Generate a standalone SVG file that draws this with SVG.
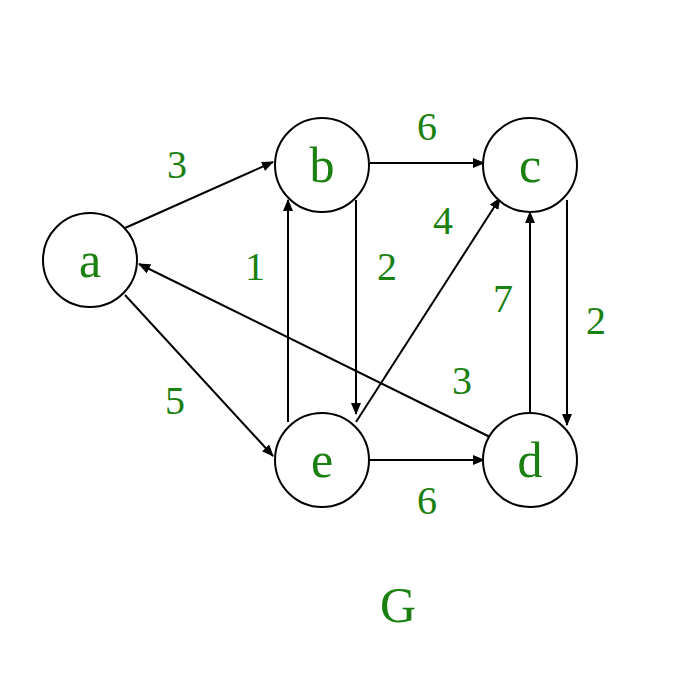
<svg xmlns="http://www.w3.org/2000/svg" width="698" height="674" viewBox="0 0 698 674">
<style>
.n{fill:#fff;stroke:#000;stroke-width:2}
.t{font-family:"Liberation Serif",serif;fill:#1a8010;text-anchor:middle}
.nl{font-size:50px}
.el{font-size:40px}
.e{stroke:#000;stroke-width:2;fill:none;marker-end:url(#ah)}
</style>
<defs><marker id="ah" markerWidth="12" markerHeight="10" refX="11" refY="5" orient="auto" markerUnits="userSpaceOnUse"><path d="M0,0L12,5L0,10z" fill="#000"/></marker></defs>
<rect width="698" height="674" fill="#fff"/>
<g id="connectors">
<line class="e" x1="125" y1="228" x2="273" y2="162"/>
<line class="e" x1="370" y1="163" x2="484" y2="163"/>
<line class="e" x1="356" y1="200" x2="356" y2="414"/>
<line class="e" x1="288" y1="422" x2="288" y2="200"/>
<line class="e" x1="356" y1="422" x2="500" y2="198"/>
<line class="e" x1="567" y1="200" x2="567" y2="425"/>
<line class="e" x1="530" y1="412" x2="530" y2="212"/>
<line class="e" x1="492" y1="438" x2="139" y2="264"/>
<line class="e" x1="125" y1="295" x2="273" y2="456"/>
<line class="e" x1="370" y1="460" x2="484" y2="460"/>
</g>
<g id="a"><circle class="n" cx="90" cy="260" r="47"/><text class="t nl" x="90" y="277">a</text></g>
<g id="b"><circle class="n" cx="322" cy="165" r="47"/><text class="t nl" x="322" y="182">b</text></g>
<g id="c"><circle class="n" cx="530" cy="165" r="47"/><text class="t nl" x="530" y="182">c</text></g>
<g id="e"><circle class="n" cx="322" cy="460" r="47"/><text class="t nl" x="322" y="477">e</text></g>
<g id="d"><circle class="n" cx="530" cy="460" r="47"/><text class="t nl" x="530" y="477">d</text></g>
<g id="labels">
<text class="t el" x="177" y="178">3</text>
<text class="t el" x="427" y="140">6</text>
<text class="t el" x="255" y="280">1</text>
<text class="t el" x="387" y="280">2</text>
<text class="t el" x="443" y="234">4</text>
<text class="t el" x="503" y="312">7</text>
<text class="t el" x="596" y="334">2</text>
<text class="t el" x="462" y="394">3</text>
<text class="t el" x="175" y="414">5</text>
<text class="t el" x="427" y="514">6</text>
<text class="t el" x="398" y="622" style="font-size:50px">G</text>
</g>
</svg>
